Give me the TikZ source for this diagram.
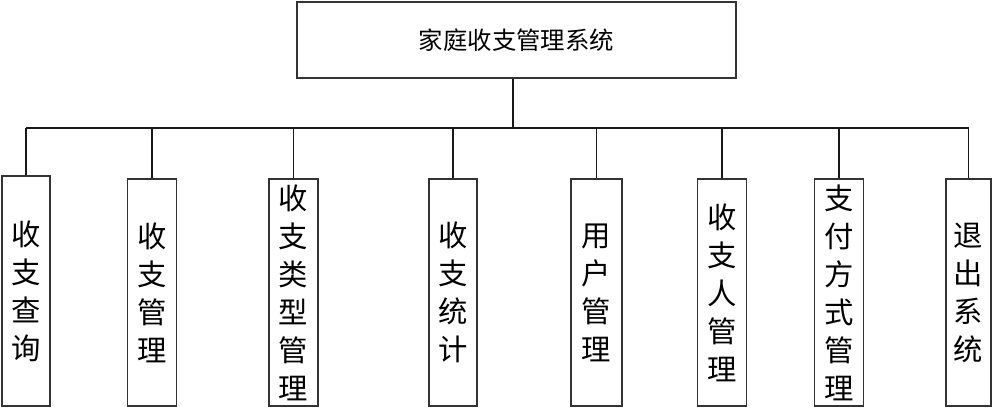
\documentclass[tikz,border=0pt]{standalone}
\usepackage{fontspec}
\newfontfamily\cjk{Noto Sans CJK SC}
\begin{document}
\begin{tikzpicture}[x=0.75pt,y=-0.75pt,
  box/.style={draw=black!80,line width=0.8pt,inner sep=0pt,align=center},
  topbox/.style={box,minimum width=329.25pt,minimum height=57pt,font=\cjk\fontsize{18.3pt}{22pt}\selectfont},
  kid/.style={box,minimum width=37pt,minimum height=170.25pt,font=\cjk\fontsize{22pt}{28.5pt}\selectfont},
  wire/.style={draw=black!90,line width=0.8pt}]
\useasboundingbox (0,0) rectangle (994,411);
\node[topbox] (top) at (516.5,40) {家庭收支管理系统};
\coordinate (bus) at (0,128);
\coordinate (drop) at (513,78);
\node[kid,minimum height=172.5pt,minimum width=36pt] (c1) at (26,291) {收\\支\\查\\询};
\node[kid] (c2) at (152,292.5) {收\\支\\管\\理};
\node[kid,minimum width=36.75pt] (c3) at (293.5,292.5) {收\\支\\类\\型\\管\\理};
\node[kid,minimum width=36pt] (c4) at (453,292.5) {收\\支\\统\\计};
\node[kid,minimum width=38.25pt] (c5) at (596.5,292.5) {用\\户\\管\\理};
\node[kid] (c6) at (722,292.5) {收\\支\\人\\管\\理};
\node[kid] (c7) at (839,292.5) {支\\付\\方\\式\\管\\理};
\node[kid,minimum width=33.75pt] (c8) at (968.5,292.5) {退\\出\\系\\统};
\draw[wire] (drop |- top.south) -- (drop |- bus);
\draw[wire] (c1.north |- bus) -- (c8.north |- bus);
\foreach \k in {c1,c2,c3,c4,c5,c6,c7,c8}
  \draw[wire] (\k.north) -- (\k.north |- bus);
\end{tikzpicture}
\end{document}
